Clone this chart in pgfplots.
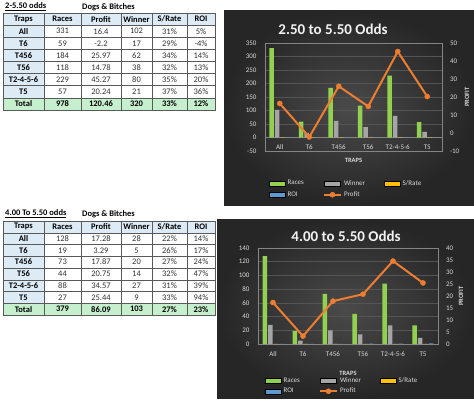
\documentclass[border=0pt]{standalone}
\usepackage{fontspec}
\setmainfont{Carlito}
\usepackage{pgfplots}
\pgfplotsset{compat=1.18}
\definecolor{hdrblue}{HTML}{DDEBF7}
\definecolor{totgreen}{HTML}{C6EFCE}
\definecolor{tline}{HTML}{595959}
\definecolor{tnum}{HTML}{333333}
\definecolor{barG}{HTML}{92D050}
\definecolor{barW}{HTML}{A5A5A5}
\definecolor{barY}{HTML}{FFC000}
\definecolor{barB}{HTML}{5B9BD5}
\definecolor{lineO}{HTML}{ED7D31}
\definecolor{txtgray}{HTML}{D9D9D9}
\definecolor{gridgray}{HTML}{545454}
\definecolor{boxgray}{HTML}{858585}
\definecolor{panelIn}{HTML}{4A4A4A}
\definecolor{panelOut}{HTML}{262626}
\pgfplotsset{barleg/.style={legend image code/.code={\fill[##1] (0pt,-2.5pt) rectangle (16pt,2.5pt);}}}
\pgfplotsset{chartbase/.style={
  scale only axis,
  xmin=-0.5, xmax=5.5,
  major tick length=0pt,
  tick label style={font=\fontsize{7}{8}\selectfont, text=txtgray},
  /pgf/number format/assume math mode=true,
}}
\newcommand\DrawTable[6]{% #1 y0, #2 h, #3 title, #4 rows, #5 total, #6 title offset
  \fill[hdrblue] (3,#1) rectangle (215,{#1+#2});
  \fill[hdrblue] (3,{#1+#2}) rectangle (44,{#1+7*#2});
  \fill[totgreen] (3,{#1+7*#2}) rectangle (215,{#1+8*#2});
  \foreach \k in {1,...,7} \draw[tline, line width=0.5pt] (3,{#1+\k*#2}) -- (215,{#1+\k*#2});
  \foreach \xx in {44,81,121,152,187} \draw[tline, line width=0.5pt] (\xx,#1) -- (\xx,{#1+8*#2});
  \draw[tline, line width=0.7pt] (3,#1) rectangle (215,{#1+8*#2});
  \node[anchor=west, inner sep=0pt, font=\bfseries\fontsize{8.5}{10}\selectfont] at (5,{#1-#6}) {\underline{#3}};
  \node[anchor=west, inner sep=0pt, font=\bfseries\fontsize{8.5}{10}\selectfont] at (82,{#1-#6}) {Dogs \& Bitches};
  \begin{scope}[every node/.style={inner sep=0pt, font=\bfseries\fontsize{8.5}{10}\selectfont, text=black}]
    \node at (23.5,{#1+0.5*#2}) {Traps};
    \node at (62.5,{#1+0.5*#2}) {Races};
    \node at (101,{#1+0.5*#2}) {Profit};
    \node at (136.5,{#1+0.5*#2}) {Winner};
    \node at (169.5,{#1+0.5*#2}) {S/Rate};
    \node at (201,{#1+0.5*#2}) {ROI};
  \end{scope}
  \foreach \n/\a/\b/\c/\d/\e [count=\i] in {#4} {
    \node[inner sep=0pt, font=\bfseries\fontsize{8.5}{10}\selectfont] at (23.5,{#1+(\i+0.5)*#2}) {\n};
    \begin{scope}[every node/.style={inner sep=0pt, font=\fontsize{8.5}{10}\selectfont, text=tnum}]
      \node at (62.5,{#1+(\i+0.5)*#2}) {\a};
      \node at (101,{#1+(\i+0.5)*#2}) {\b};
      \node at (136.5,{#1+(\i+0.5)*#2}) {\c};
      \node at (169.5,{#1+(\i+0.5)*#2}) {\d};
      \node at (201,{#1+(\i+0.5)*#2}) {\e};
    \end{scope}
  }
  \foreach \n/\a/\b/\c/\d/\e in {#5} {
    \begin{scope}[every node/.style={inner sep=0pt, font=\bfseries\fontsize{8.5}{10}\selectfont, text=black}]
      \node at (23.5,{#1+7.5*#2}) {\n};
      \node at (62.5,{#1+7.5*#2}) {\a};
      \node at (101,{#1+7.5*#2}) {\b};
      \node at (136.5,{#1+7.5*#2}) {\c};
      \node at (169.5,{#1+7.5*#2}) {\d};
      \node at (201,{#1+7.5*#2}) {\e};
    \end{scope}
  }
}
\begin{document}
\begin{tikzpicture}[x=1pt,y=-1pt]
\path[use as bounding box] (0,0) rectangle (474,404);
\fill[white] (0,0) rectangle (474,404);

% ---------- tables ----------
\DrawTable{13}{12.125}{2-5.50 odds}{All/331/16.4/102/31\%/5\%, T6/59/-2.2/17/29\%/-4\%, T456/184/25.97/62/34\%/14\%, T56/118/14.78/38/32\%/13\%, T2-4-5-6/229/45.27/80/35\%/20\%, T5/57/20.24/21/37\%/36\%}{Total/978/120.46/320/33\%/12\%}{6}
\DrawTable{221}{11.75}{4.00 To 5.50 odds}{All/128/17.28/28/22\%/14\%, T6/19/3.29/5/26\%/17\%, T456/73/17.87/20/27\%/24\%, T56/44/20.75/14/32\%/47\%, T2-4-5-6/88/34.57/27/31\%/39\%, T5/27/25.44/9/33\%/94\%}{Total/379/86.09/103/27\%/23\%}{7}

% ---------- panels ----------
\shade[inner color=panelIn, outer color=panelOut] (224,11) rectangle (474,205);
\shade[inner color=panelIn, outer color=panelOut] (217,219) rectangle (474,398);

% ---------- chart 1 ----------
\begin{axis}[chartbase,
  at={(265pt,-151pt)}, anchor=south west, width=177pt, height=108pt,
  ymin=-50, ymax=350, ytick={-50,0,50,100,150,200,250,300,350},
  xtick={0,...,5}, xticklabels={All,T6,T456,T56,T2-4-5-6,T5},
  ybar=1pt, bar width=4.5pt,
  axis line style={draw=boxgray, line width=0.6pt},
  ymajorgrids, grid style={draw=gridgray, line width=0.5pt},
  extra y ticks={0}, extra y tick labels={},
  extra y tick style={grid style={draw=boxgray, line width=0.8pt}},
  yticklabel style={xshift=-5pt},
  xticklabel style={yshift=9.5pt},
]
\addplot[fill=barG, draw=none] coordinates {(0,331)(1,59)(2,184)(3,118)(4,229)(5,57)};
\addplot[fill=barW, draw=none] coordinates {(0,102)(1,17)(2,62)(3,38)(4,80)(5,21)};
\addplot[fill=barY, draw=none] coordinates {(0,0.31)(1,0.29)(2,0.34)(3,0.32)(4,0.35)(5,0.37)};
\addplot[fill=barB, draw=none] coordinates {(0,0.05)(1,-0.04)(2,0.14)(3,0.13)(4,0.20)(5,0.36)};
\end{axis}
\begin{axis}[chartbase,
  at={(265pt,-151pt)}, anchor=south west, width=177pt, height=108pt,
  ymin=-10, ymax=50, ytick={-10,0,10,20,30,40,50},
  axis y line*=right, axis x line=none,
  axis line style={draw=none},
  yticklabel style={xshift=4.5pt},
  legend columns=3, legend cell align=left,
  legend style={at={(rel axis cs:0,0)}, anchor=north west, xshift=4pt, yshift=-27pt,
    draw=none, fill=none, text=txtgray, font=\fontsize{7}{8}\selectfont,
    inner sep=0pt, row sep=1pt,
    /tikz/every even column/.append style={column sep=17pt}},
]
\addlegendimage{barleg, fill=barG}\addlegendentry{Races}
\addlegendimage{barleg, fill=barW}\addlegendentry{Winner}
\addlegendimage{barleg, fill=barY}\addlegendentry{S/Rate}
\addlegendimage{barleg, fill=barB}\addlegendentry{ROI}
\addplot[color=lineO, line width=2pt, mark=*, mark size=2.5pt, mark options={fill=lineO, draw=lineO, line width=0.5pt}] coordinates {(0,16.4)(1,-2.2)(2,25.97)(3,14.78)(4,45.27)(5,20.24)};
\addlegendentry{Profit}
\end{axis}
\node[font=\bfseries\fontsize{15}{17}\selectfont, text=white!95!black] at (333,29) {2.50 to 5.50 Odds};
\node[font=\bfseries\fontsize{6.5}{8}\selectfont, text=txtgray] at (353.5,160) {TRAPS};
\node[rotate=90, font=\bfseries\fontsize{6.5}{8}\selectfont, text=txtgray] at (467,97) {PROFIT};

% ---------- chart 2 ----------
\begin{axis}[chartbase,
  at={(258pt,-344pt)}, anchor=south west, width=180pt, height=96pt,
  ymin=0, ymax=140, ytick={0,20,...,140},
  xtick={0,...,5}, xticklabels={All,T6,T456,T56,T2-4-5-6,T5},
  ybar=1pt, bar width=4.5pt,
  axis line style={draw=boxgray, line width=0.6pt},
  ymajorgrids, grid style={draw=gridgray, line width=0.5pt},
  yticklabel style={xshift=-5pt},
  xticklabel style={yshift=-4pt},
]
\addplot[fill=barG, draw=none] coordinates {(0,128)(1,19)(2,73)(3,44)(4,88)(5,27)};
\addplot[fill=barW, draw=none] coordinates {(0,28)(1,5)(2,20)(3,14)(4,27)(5,9)};
\addplot[fill=barY, draw=none] coordinates {(0,0.22)(1,0.26)(2,0.27)(3,0.32)(4,0.31)(5,0.33)};
\addplot[fill=barB, draw=none] coordinates {(0,0.14)(1,0.17)(2,0.24)(3,0.47)(4,0.39)(5,0.94)};
\end{axis}
\begin{axis}[chartbase,
  at={(258pt,-344pt)}, anchor=south west, width=180pt, height=96pt,
  ymin=0, ymax=40, ytick={0,5,...,40},
  axis y line*=right, axis x line=none,
  axis line style={draw=none},
  yticklabel style={xshift=4.5pt},
  legend columns=3, legend cell align=left,
  legend style={at={(rel axis cs:0,0)}, anchor=north west, xshift=7pt, yshift=-31.5pt,
    draw=none, fill=none, text=txtgray, font=\fontsize{7}{8}\selectfont,
    inner sep=0pt, row sep=0pt,
    /tikz/every even column/.append style={column sep=17pt}},
]
\addlegendimage{barleg, fill=barG}\addlegendentry{Races}
\addlegendimage{barleg, fill=barW}\addlegendentry{Winner}
\addlegendimage{barleg, fill=barY}\addlegendentry{S/Rate}
\addlegendimage{barleg, fill=barB}\addlegendentry{ROI}
\addplot[color=lineO, line width=2pt, mark=*, mark size=2.5pt, mark options={fill=lineO, draw=lineO, line width=0.5pt}] coordinates {(0,17.28)(1,3.29)(2,17.87)(3,20.75)(4,34.57)(5,25.44)};
\addlegendentry{Profit}
\end{axis}
\node[font=\bfseries\fontsize{15}{17}\selectfont, text=white!95!black] at (346,236) {4.00 to 5.50 Odds};
\node[font=\bfseries\fontsize{6.5}{8}\selectfont, text=txtgray] at (348,373) {TRAPS};
\node[rotate=90, font=\bfseries\fontsize{6.5}{8}\selectfont, text=txtgray] at (461,296) {PROFIT};
\end{tikzpicture}
\end{document}
